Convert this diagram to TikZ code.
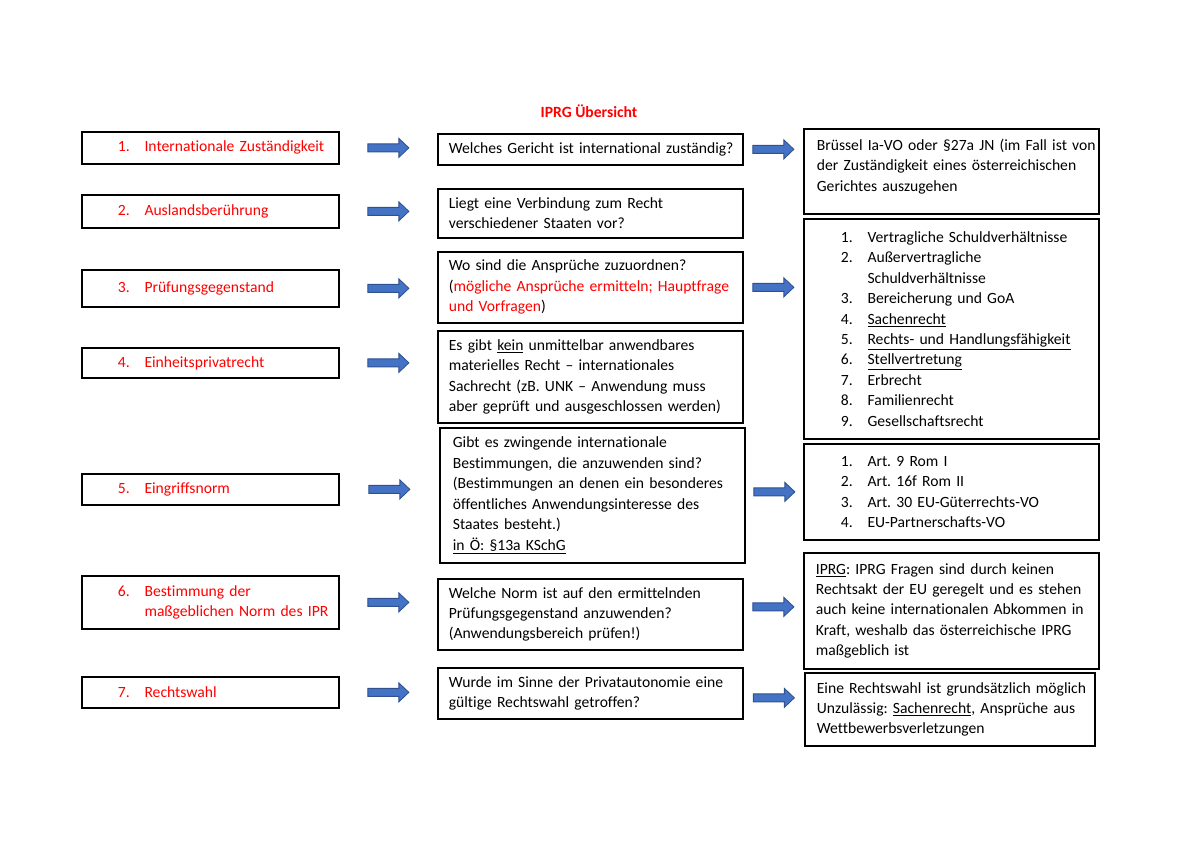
\documentclass[tikz,border=0pt]{standalone}
\usepackage{fontspec}
\setmainfont{Carlito}[Ligatures=NoCommon]
\usepackage{xcolor}
\usepackage{tikz}
\usetikzlibrary{calc}

\definecolor{arrowblue}{HTML}{4472C4}
\definecolor{arrowedge}{HTML}{2F528F}
\newlength\pxu
\setlength\pxu{0.2475mm}
\frenchspacing
\newcommand\nr[1]{\makebox[6.6mm][l]{#1}}
% padded text block inside a box
\newcommand\boxtext[2]{\hspace*{#1\pxu}%
  \parbox[t]{\dimexpr\linewidth-#1\pxu-1pt\relax}{\raggedright #2}}

\tikzset{
  box/.style={draw, line width=1.2pt, anchor=north west, inner sep=0pt,
    align=left, font=\fontsize{11pt}{14.4pt}\selectfont},
  boxsize/.style 2 args={minimum width=#1*0.2475mm,
    minimum height=#2*0.2475mm, text width=#1*0.2475mm},
  topic/.style={box, text=red},
  blockarrow/.style={draw=arrowedge, fill=arrowblue, line width=0.6pt,
    to path={($(\tikztostart)!0.5!(\tikztotarget)$) ++(-20.5,-4)
      -- ++(31,0) -- ++(0,-5.5) -- ++(10,9.5) -- ++(-10,9.5)
      -- ++(0,-5.5) -- ++(-31,0) -- cycle}}
}

\begin{document}
\begin{tikzpicture}[x=0.2475mm, y=-0.2475mm]
        \useasboundingbox (0,0) rectangle (1200,849);
        % Title
        \node[font=\fontsize{11pt}{14.4pt}\selectfont\bfseries, text=red]
          (title) at (589,111) {IPRG Übersicht};
        % Left column
        \node[topic, boxsize={257}{32}] (L1) at (81,131)
          {\boxtext{36}{\nr{1.}Internationale Zuständigkeit}};
        \node[topic, boxsize={257}{33}] (L2) at (81,194)
          {\boxtext{36}{\nr{2.}Auslandsberührung}};
        \node[topic, boxsize={257}{37}] (L3) at (81,269)
          {\boxtext{36}{\nr{3.}Prüfungsgegenstand}};
        \node[topic, boxsize={257}{30}] (L4) at (81,347)
          {\boxtext{36}{\nr{4.}Einheitsprivatrecht}};
        \node[topic, boxsize={257}{31}] (L5) at (81,473)
          {\boxtext{36}{\nr{5.}Eingriffsnorm}};
        \node[topic, boxsize={257}{53}] (L6) at (81,575)
          {\boxtext{36}{\nr{6.}Bestimmung der\\\nr{}maßgeblichen Norm des IPR}};
        \node[topic, boxsize={257}{31}] (L7) at (81,676)
          {\boxtext{36}{\nr{7.}Rechtswahl}};
        % Middle column
        \node[box, boxsize={305}{31}] (M1) at (437,133)
          {\boxtext{11}{Welches Gericht ist international zuständig?}};
        \node[box, boxsize={305}{49}] (M2) at (437,188)
          {\boxtext{11}{Liegt eine Verbindung zum Recht\\verschiedener Staaten vor?}};
        \node[box, boxsize={305}{71}] (M3) at (437,251)
          {\boxtext{11}{Wo sind die Ansprüche zuzuordnen?\\
           (\textcolor{red}{mögliche Ansprüche ermitteln; Hauptfrage}\\
           \textcolor{red}{und Vorfragen})}};
        \node[box, boxsize={305}{92}] (M4) at (437,330)
          {\boxtext{11}{Es gibt \underline{kein} unmittelbar anwendbares\\
           materielles Recht – internationales\\
           Sachrecht (zB. UNK – Anwendung muss\\
           aber geprüft und ausgeschlossen werden)}};
        \node[box, boxsize={305}{135}] (M5) at (439,427)
          {\boxtext{13}{Gibt es zwingende internationale\\
           Bestimmungen, die anzuwenden sind?\\
           (Bestimmungen an denen ein besonderes\\
           öffentliches Anwendungsinteresse des\\
           Staates besteht.)\\
           \underline{in Ö: §13a KSchG}}};
        \node[box, boxsize={305}{71}] (M6) at (437,578)
          {\boxtext{11}{Welche Norm ist auf den ermittelnden\\
           Prüfungsgegenstand anzuwenden?\\
           (Anwendungsbereich prüfen!)}};
        \node[box, boxsize={305}{51}] (M7) at (437,667)
          {\boxtext{11}{Wurde im Sinne der Privatautonomie eine\\
           gültige Rechtswahl getroffen?}};
        % Right column
        \node[box, boxsize={295}{85}] (R1) at (803,128)
          {\boxtext{13}{Brüssel Ia-VO oder §27a JN (im Fall ist von\\
           der Zuständigkeit eines österreichischen\\
           Gerichtes auszugehen\par\vspace*{10\pxu}}};
        \node[box, boxsize={295}{220}] (R2) at (803,218)
          {\boxtext{37}{\nr{1.}Vertragliche Schuldverhältnisse\\
           \nr{2.}Außervertragliche\\
           \nr{}Schuldverhältnisse\\
           \nr{3.}Bereicherung und GoA\\
           \nr{4.}\underline{Sachenrecht}\\
           \nr{5.}\underline{Rechts- und Handlungsfähigkeit}\\
           \nr{6.}\underline{Stellvertretung}\\
           \nr{7.}Erbrecht\\
           \nr{8.}Familienrecht\\
           \nr{9.}Gesellschaftsrecht}};
        \node[box, boxsize={295}{96}] (R3) at (803,443)
          {\boxtext{37}{\nr{1.}Art. 9 Rom I\\
           \nr{2.}Art. 16f Rom II\\
           \nr{3.}Art. 30 EU-Güterrechts-VO\\
           \nr{4.}EU-Partnerschafts-VO}};
        \node[box, boxsize={295}{116}] (R4) at (803,552)
          {\boxtext{12}{\underline{IPRG}: IPRG Fragen sind durch keinen\\
           Rechtsakt der EU geregelt und es stehen\\
           auch keine internationalen Abkommen in\\
           Kraft, weshalb das österreichische IPRG\\
           maßgeblich ist}};
        \node[box, boxsize={290}{73}] (R5) at (804,672)
          {\boxtext{12}{Eine Rechtswahl ist grundsätzlich möglich\\
           Unzulässig: \underline{Sachenrecht}, Ansprüche aus\\
           Wettbewerbsverletzungen}};
        % Arrows left to middle
        \foreach \i in {1,...,7}{
          \draw[blockarrow] (L\i.east) to (L\i.east -| M\i.west);
        }
        % Arrows middle to right
        \draw[blockarrow] (M1.east) to (M1.east -| R1.west);
        \draw[blockarrow] (M3.east) to (M3.east -| R2.west);
        \draw[blockarrow] (R3.west -| M5.east) to (R3.west);
        \draw[blockarrow] ($(R4.west -| M6.east)+(0,-4)$) to ($(R4.west)+(0,-4)$);
        \draw[blockarrow] ($(M7.east)+(0,4.5)$) to ($(M7.east -| R5.west)+(0,4.5)$);
      \end{tikzpicture}
\end{document}
